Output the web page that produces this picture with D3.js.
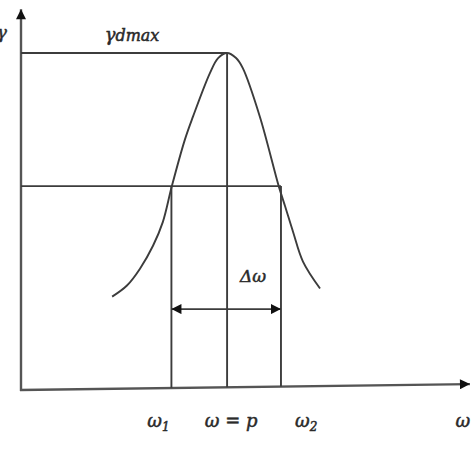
<!DOCTYPE html>
<html>
<head>
<meta charset="utf-8">
<script src="https://cdn.jsdelivr.net/npm/d3@7"></script>
<style>
  html, body { margin: 0; padding: 0; background: #fff; }
  svg { display: block; }
  .lbl { font-family: "DejaVu Serif", "Liberation Serif", serif; font-style: italic; fill: #2a2a2a; stroke: #2a2a2a; stroke-width: 0.5px; }
</style>
</head>
<body>
<svg id="chart" width="474" height="474"></svg>
<script>
// resonance curve (omega in arbitrary units, gamma normalised to peak)
const omegaCurve = [2.03, 2.36, 2.65, 2.94, 3.16, 3.36, 3.65, 3.83, 4.21, 4.39, 4.59, 4.79, 4.94, 5.32, 5.74, 5.88, 6.06, 6.28, 6.66];
const gammaCurve = [0.277, 0.31, 0.36, 0.428, 0.499, 0.605, 0.743, 0.811, 0.941, 0.985, 1.0, 0.985, 0.955, 0.811, 0.605, 0.546, 0.469, 0.381, 0.301];

const omega1 = 3.35, omegaP = 4.59, omega2 = 5.79;
const gammaMax = 1.0, gammaHalf = 0.605;
const deltaLevel = 0.24;

const xLabels = [
  {w: 3.06, base: 'ω', sub: '1'},
  {w: 4.68, base: 'ω = p', sub: ''},
  {w: 6.35, base: 'ω', sub: '2'},
  {w: 9.84, base: 'ω', sub: ''}
];

const svg = d3.select('#chart');
const stroke = '#3c3c3c';

const xScale = d3.scaleLinear().domain([0, 10]).range([21, 470]);
const yScale = d3.scaleLinear().domain([0, 1]).range([390, 53]);

// arrow markers
const defs = svg.append('defs');
defs.append('marker')
  .attr('id', 'tri')
  .attr('viewBox', '0 0 10 10')
  .attr('refX', 10).attr('refY', 5)
  .attr('markerWidth', 14).attr('markerHeight', 10)
  .attr('markerUnits', 'userSpaceOnUse')
  .attr('orient', 'auto-start-reverse')
  .append('path')
  .attr('d', 'M0,0 L10,5 L0,10 Z')
  .attr('fill', '#111');

// axes
const axes = svg.append('g');
axes.append('line')
  .attr('x1', xScale(0)).attr('y1', yScale(0) + 1)
  .attr('x2', xScale(0)).attr('y2', yScale(1.13))
  .attr('stroke', '#555').attr('stroke-width', 2.4)
  .attr('marker-end', 'url(#tri)');
axes.append('line')
  .attr('x1', xScale(0) - 1).attr('y1', yScale(0))
  .attr('x2', xScale(10)).attr('y2', yScale(0))
  .attr('stroke', '#555').attr('stroke-width', 2.4)
  .attr('transform', `rotate(-0.75, ${xScale(0)}, ${yScale(0)})`)
  .attr('marker-end', 'url(#tri)');

// guide lines
const g = svg.append('g').attr('stroke', stroke).attr('stroke-width', 1.9).attr('fill', 'none');
g.append('line')
  .attr('x1', xScale(0)).attr('x2', xScale(omegaP))
  .attr('y1', yScale(gammaMax)).attr('y2', yScale(gammaMax));
g.append('line')
  .attr('x1', xScale(0)).attr('x2', xScale(omega2))
  .attr('y1', yScale(gammaHalf)).attr('y2', yScale(gammaHalf));
[[omega1, gammaHalf], [omegaP, gammaMax], [omega2, gammaHalf]].forEach(d => {
  g.append('line')
    .attr('x1', xScale(d[0])).attr('x2', xScale(d[0]))
    .attr('y1', yScale(d[1])).attr('y2', yScale(0) - (d[0] - xScale.domain()[0]) * 0.6);
});

// curve
g.append('path')
  .datum(omegaCurve.map((w, i) => [w, gammaCurve[i]]))
  .attr('d', d3.line()
    .x(d => xScale(d[0]))
    .y(d => yScale(d[1]))
    .curve(d3.curveCatmullRom.alpha(0.5)));

// delta omega arrow
g.append('line')
  .attr('x1', xScale(omega1)).attr('x2', xScale(omega2))
  .attr('y1', yScale(deltaLevel)).attr('y2', yScale(deltaLevel))
  .attr('marker-start', 'url(#tri)')
  .attr('marker-end', 'url(#tri)');

// labels
svg.append('text').attr('class', 'lbl')
  .attr('x', xScale((omegaP + omega2) / 2) - 1).attr('y', yScale(deltaLevel) - 27)
  .attr('text-anchor', 'middle').attr('font-size', 17)
  .text('Δω');

const gm = svg.append('text').attr('class', 'lbl')
  .attr('x', 132).attr('y', yScale(gammaMax) - 12)
  .attr('text-anchor', 'middle').attr('font-size', 18);
gm.append('tspan').text('γ');
gm.append('tspan').attr('font-size', 16).text('dmax');

svg.append('text').attr('class', 'lbl')
  .attr('x', 7).attr('y', 38)
  .attr('text-anchor', 'end').attr('font-size', 17)
  .text('γ');

const xl = svg.selectAll('.xl').data(xLabels).enter()
  .append('text').attr('class', 'lbl xl')
  .attr('x', d => xScale(d.w)).attr('y', 427)
  .attr('text-anchor', 'middle').attr('font-size', 18);
xl.append('tspan').text(d => d.base);
xl.filter(d => d.sub).append('tspan')
  .attr('font-size', 12).attr('dy', 4).text(d => d.sub);
</script>
</body>
</html>
